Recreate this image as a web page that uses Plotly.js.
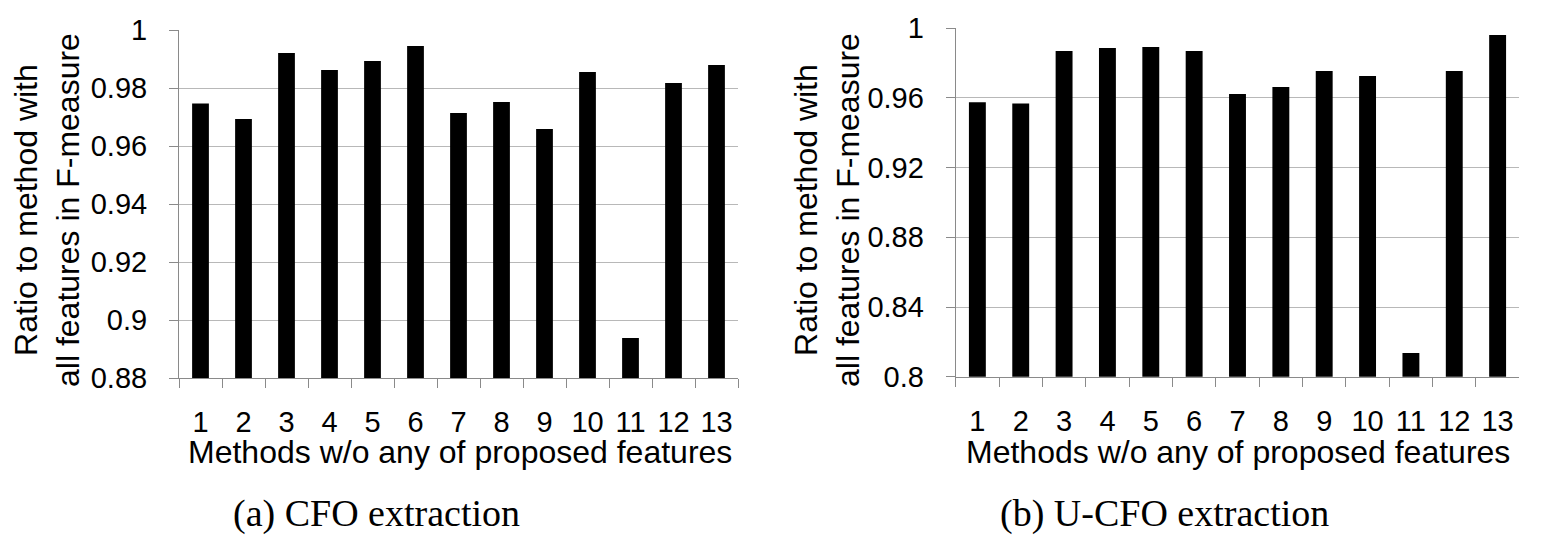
<!DOCTYPE html>
<html>
<head>
<meta charset="utf-8">
<script src="https://cdn.plot.ly/plotly-3.0.1.min.js"></script>
<style>html,body{margin:0;padding:0;background:#fff;}#chart{width:1547px;height:535px;}</style>
</head>
<body>
<div id="chart"></div>
<script>
// ---- data ----
var methods = ['1','2','3','4','5','6','7','8','9','10','11','12','13'];
var cfoRatio  = [0.9747, 0.9693, 0.9921, 0.9862, 0.9893, 0.9945, 0.9714, 0.9752, 0.9659, 0.9855, 0.8939, 0.9817, 0.9879];
var ucfoRatio = [0.9575, 0.9569, 0.9870, 0.9887, 0.9893, 0.9870, 0.9623, 0.9663, 0.9755, 0.9726, 0.8136, 0.9755, 0.9962];
var cfoTickVals  = [0.88, 0.9, 0.92, 0.94, 0.96, 0.98, 1];
var cfoTickText  = ['0.88', '0.9', '0.92', '0.94', '0.96', '0.98', '1'];
var ucfoTickVals = [0.8, 0.84, 0.88, 0.92, 0.96, 1];
var ucfoTickText = ['0.8', '0.84', '0.88', '0.92', '0.96', '1'];
var yTitle = 'Ratio to method with<br>all features in F-measure';
var xTitle = 'Methods w/o any of proposed features';
var captionA = '(a) CFO extraction';
var captionB = '(b) U-CFO extraction';

var W = 1547, H = 535;
var sans = 'Liberation Sans, Arial, Helvetica, sans-serif';
var serif = 'Liberation Serif, Times New Roman, serif';
var axisGrey = '#8a8a8a', gridGrey = '#b8b8b8';

function px(x){ return x / W; }
function py(y){ return 1 - y / H; }

var traces = [
  {type:'bar', x: methods, y: cfoRatio, xaxis:'x', yaxis:'y', marker:{color:'#000'}, hoverinfo:'x+y'},
  {type:'bar', x: methods, y: ucfoRatio, xaxis:'x2', yaxis:'y2', marker:{color:'#000'}, hoverinfo:'x+y'}
];

function xa(domain){
  return {domain: domain, type:'category', tickson:'boundaries', ticks:'outside', ticklen:9,
    tickcolor: axisGrey, tickwidth:1, showline:true, linecolor: axisGrey, linewidth:1,
    showgrid:false, zeroline:false, fixedrange:true, ticklabelstandoff: 18,
    tickfont:{family: sans, size:29, color:'#000'}};
}
function ya(domain, range, vals, text, anchor){
  return {domain: domain, range: range, tickmode:'array', tickvals: vals, ticktext: text,
    ticks:'outside', ticklen:9, tickcolor: axisGrey, tickwidth:1, showline:true, linecolor: axisGrey,
    linewidth:1, showgrid:true, gridcolor: gridGrey, gridwidth:1, zeroline:false, fixedrange:true,
    anchor: anchor, ticklabelstandoff: 16,
    tickfont:{family: sans, size:29, color:'#000'}};
}

var layout = {
  width: W, height: H,
  margin:{l:0, r:0, t:0, b:0},
  paper_bgcolor:'#fff', plot_bgcolor:'#fff',
  showlegend:false, bargap:0.61,
  xaxis: Object.assign(xa([px(179), px(738)]), {anchor:'y'}),
  yaxis: ya([py(378.3), py(30)], [0.88, 1], cfoTickVals, cfoTickText, 'x'),
  xaxis2: Object.assign(xa([px(955.7), px(1519.3)]), {anchor:'y2'}),
  yaxis2: ya([py(376.7), py(28.3)], [0.8, 1], ucfoTickVals, ucfoTickText, 'x2'),
  annotations: [
    {text: yTitle, xref:'paper', yref:'paper', x: px(47), y: py(210), xanchor:'center', yanchor:'middle',
     textangle:-90, showarrow:false, font:{family: sans, size:32, color:'#000'}},
    {text: yTitle, xref:'paper', yref:'paper', x: px(827), y: py(210), xanchor:'center', yanchor:'middle',
     textangle:-90, showarrow:false, font:{family: sans, size:32, color:'#000'}},
    {text: xTitle, xref:'paper', yref:'paper', x: px(459.5), y: py(452), xanchor:'center', yanchor:'middle',
     showarrow:false, font:{family: sans, size:32, color:'#000'}},
    {text: xTitle, xref:'paper', yref:'paper', x: px(1238), y: py(452), xanchor:'center', yanchor:'middle',
     showarrow:false, font:{family: sans, size:32, color:'#000'}},
    {text: captionA, xref:'paper', yref:'paper', x: px(376), y: py(513), xanchor:'center', yanchor:'middle',
     showarrow:false, font:{family: serif, size:38, color:'#000'}},
    {text: captionB, xref:'paper', yref:'paper', x: px(1164), y: py(513), xanchor:'center', yanchor:'middle',
     showarrow:false, font:{family: serif, size:38, color:'#000'}}
  ]
};

Plotly.newPlot('chart', traces, layout, {displayModeBar:false, staticPlot:true});
</script>
</body>
</html>
